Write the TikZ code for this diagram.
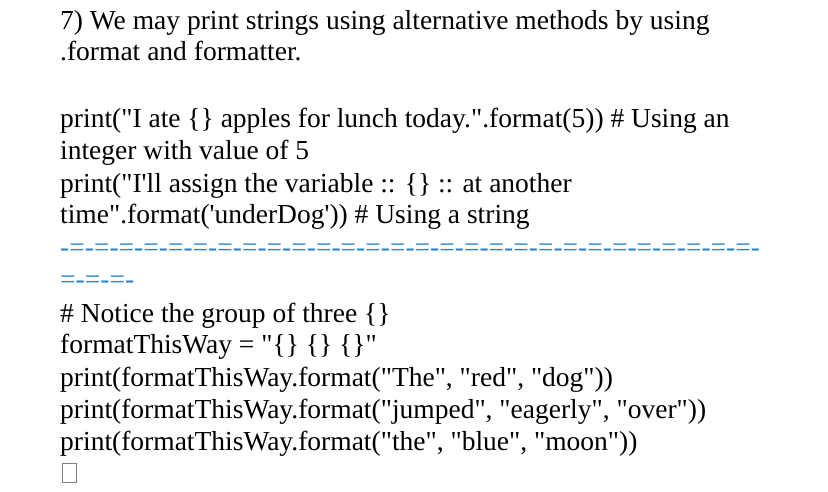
\documentclass[tikz,border=0pt]{standalone}
\usepackage{fontspec}
\setmainfont{Liberation Serif}[Ligatures=TeXOff]
\begin{document}
\begin{tikzpicture}[x=1pt,y=-1pt,
  ln/.style={anchor=base west,inner sep=0pt,font=\fontsize{27.5}{27.5}\selectfont},
  dl/.style={ln,text={rgb,255:red,40;green,130;blue,210}}]
\useasboundingbox (0,0) rectangle (828,492);
\node[ln] (l1) at (60,30) {7) We may print strings using alternative methods by using};
\node[ln] (l2) at (60,61) {.format and formatter.};
\node[ln] (l3) at (60,128) {print("I ate \{\} apples for lunch today.".format(5)) \# Using an};
\node[ln] (l4) at (60,160) {integer with value of 5};
\node[ln] (l5) at (60,193) {print("I'll assign the variable :: \{\} :: at another};
\node[ln] (l6) at (60,224) {time".format('underDog')) \# Using a string};
\node[dl] (l7) at (60,256) {-=-=-=-=-=-=-=-=-=-=-=-=-=-=-=-=-=-=-=-=-=-=-=-=-=-=-=-=-};
\node[dl] (l8) at (60,288) {=-=-=-};
\node[ln] (l9) at (60,322) {\# Notice the group of three \{\}};
\node[ln] (l10) at (60,353) {formatThisWay = "\{\} \{\} \{\}"};
\node[ln] (l11) at (60,386) {print(formatThisWay.format("The", "red", "dog"))};
\node[ln] (l12) at (60,418) {print(formatThisWay.format("jumped", "eagerly", "over"))};
\node[ln] (l13) at (60,450) {print(formatThisWay.format("the", "blue", "moon"))};
\node[draw=gray,line width=1pt,minimum width=14pt,minimum height=19pt,inner sep=0pt,anchor=north west] (box) at (62,463) {};
\end{tikzpicture}
\end{document}
